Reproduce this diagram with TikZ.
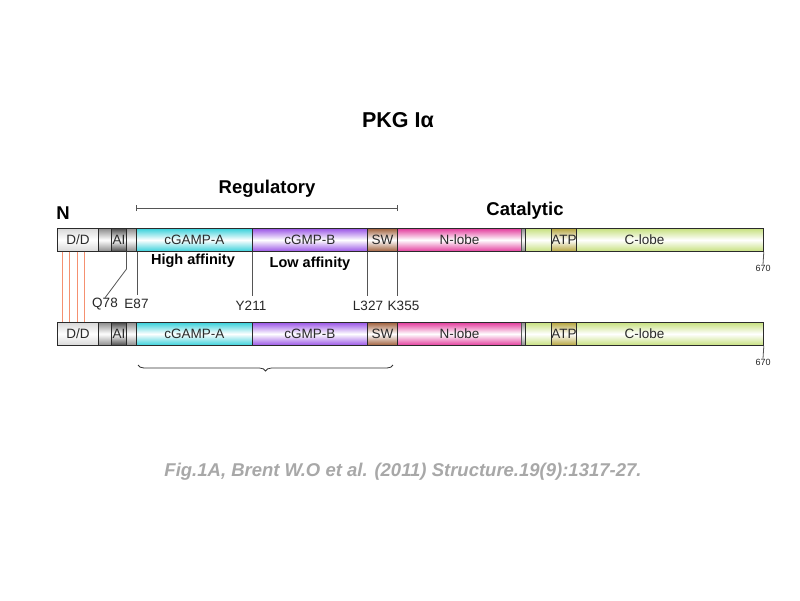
\documentclass[tikz,border=0pt]{standalone}
\usepackage{fontspec}
\setmainfont{Liberation Sans}
\usetikzlibrary{decorations.pathreplacing}
\definecolor{ddc}{HTML}{D8D8D8}
\definecolor{grc}{HTML}{8C8C8C}
\definecolor{aic}{HTML}{4A4A4A}
\definecolor{cyc}{HTML}{38D0DA}
\definecolor{puc}{HTML}{9A55E6}
\definecolor{swc}{HTML}{A0603C}
\definecolor{pkc}{HTML}{E23C9C}
\definecolor{lgc}{HTML}{C6E07E}
\definecolor{atc}{HTML}{B4A43C}
\definecolor{txc}{HTML}{2A2A2A}
\definecolor{lnc}{HTML}{555555}
\definecolor{orc}{HTML}{F59070}
\definecolor{capc}{HTML}{A8A8A8}
\tikzset{
  seg/.style={draw=txc, line width=0.8pt, inner sep=0pt, minimum height=23pt, anchor=north west,
    text=txc, font=\fontsize{13.5}{15}\selectfont},
  shadeit/.style={top color=#1, bottom color=#1, middle color=white},
  markline/.style={draw=lnc, line width=0.8pt},
  marklab/.style={text=black!85, font=\fontsize{13.5}{15}\selectfont, inner sep=0pt},
  endlab/.style={text=black!85, font=\fontsize{9}{10}\selectfont, inner sep=0pt},
  bigbold/.style={font=\fontsize{18.5}{21}\selectfont\bfseries, inner sep=0pt},
  afflab/.style={font=\fontsize{14.5}{16}\selectfont\bfseries, inner sep=0pt},
}
\newcommand{\protbar}[2]{%
  \node[seg, shadeit=ddc, minimum width=41pt] (#1dd) at (57,#2) {D/D};
  \node[seg, shadeit=grc, minimum width=13pt] (#1g1) at (98,#2) {};
  \node[seg, shadeit=aic, minimum width=15pt] (#1ai) at (111,#2) {AI};
  \node[seg, shadeit=grc, minimum width=10pt] (#1g2) at (126,#2) {};
  \node[seg, shadeit=cyc, minimum width=116pt] (#1ca) at (136,#2) {cGAMP-A};
  \node[seg, shadeit=puc, minimum width=115pt] (#1cb) at (252,#2) {cGMP-B};
  \node[seg, shadeit=swc, minimum width=30pt] (#1sw) at (367,#2) {SW};
  \node[seg, shadeit=pkc, minimum width=124pt] (#1nl) at (397,#2) {N-lobe};
  \node[seg, shadeit=grc, minimum width=4pt, draw=lnc, line width=0.5pt] (#1g3) at (521,#2) {};
  \node[seg, shadeit=lgc, minimum width=238pt] (#1cl) at (525,#2) {C-lobe};
  \node[seg, shadeit=atc, minimum width=18pt] (#1atp) at (551,#2) {ATP};
  \draw[txc, line width=0.8pt] (#1dd.north west) rectangle (#1cl.south east);
}
\begin{document}
\begin{tikzpicture}[x=1pt,y=-1pt]
\useasboundingbox (0,0) rectangle (800,600);
\fill[white] (0,0) rectangle (800,600);
\node[font=\fontsize{21.5}{25}\selectfont\bfseries, inner sep=0pt] (title) at (398,120) {PKG Iα};
\node[bigbold] (reglab) at (267,189) {Regulatory};
\node[bigbold] (nlab) at (63,213) {N};
\node[bigbold] (catlab) at (525,211) {Catalytic};
\coordinate (rl) at (136,208);
\coordinate (rr) at (397,208);
\draw[lnc, line width=0.8pt] (rl) -- (rr);
\draw[lnc, line width=0.8pt] ([yshift=-3pt]rl) -- ([yshift=3pt]rl);
\draw[lnc, line width=0.8pt] ([yshift=-3pt]rr) -- ([yshift=3pt]rr);
% top bar
\protbar{t}{228}
% bottom bar
\protbar{b}{322}
% orange lines
\foreach \xx in {62,69,77,84} {
  \draw[orc, line width=1pt] (\xx,251.5) -- (\xx,321.5);
}
% affinity labels
\node[afflab] (hi) at (193,261) {High affinity};
\node[afflab] (lo) at (310,264) {Low affinity};
% marker lines
\node[marklab] (q78) at (105,304) {Q78};
\node[marklab] (e87) at (136.5,304) {E87};
\node[marklab] (y211) at (251,306) {Y211};
\node[marklab] (l327) at (368,306) {L327};
\node[marklab] (k355) at (403.5,306) {K355};
\draw[markline] (126.5,251.5) -- (126.5,269) -- (q78.north);
\draw[markline] (137,251.5) -- (137,295);
\draw[markline] (252,251.5) -- (252,296);
\draw[markline] (367,251.5) -- (367,296);
\draw[markline] (397,251.5) -- (397,296);
% 670 ends
\node[endlab] (e1) at (763,268) {670};
\node[endlab] (e2) at (763,362) {670};
\draw[markline] (tcl.south east) -- (e1.north);
\draw[markline] (bcl.south east) -- (e2.north);
% brace
\coordinate (bl) at (138,365);
\coordinate (br) at (393,365);
\draw[black!80, line width=0.8pt, decorate, decoration={brace, mirror, amplitude=6pt}] (bl) -- (br);
% caption
\node[text=capc, font=\fontsize{18.5}{21}\selectfont\bfseries\itshape, inner sep=0pt] (cap) at (403,472)
  {Fig.1A, Brent W.O et al. (2011) Structure.19(9):1317-27.};
\end{tikzpicture}
\end{document}
